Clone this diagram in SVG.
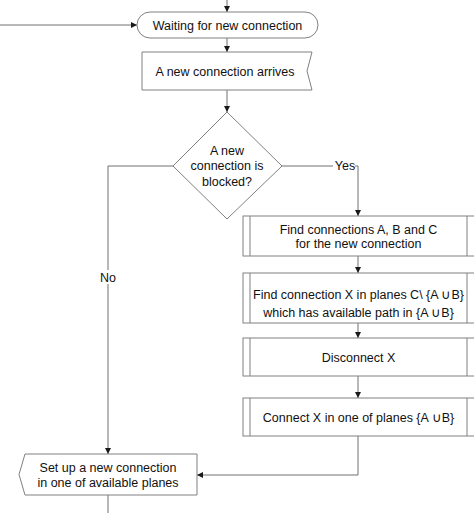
<svg xmlns="http://www.w3.org/2000/svg" width="474" height="513" viewBox="0 0 474 513">
<style>
.shape{fill:#ffffff;stroke:#808080;stroke-width:1}
.conn{fill:none;stroke:#707070;stroke-width:1}
.t{font-family:"Liberation Sans",Arial,sans-serif;font-size:12.5px;fill:#111111;text-anchor:middle}
.lbl{fill:#ffffff;stroke:none}
</style>
<defs>
<marker id="arr" viewBox="0 0 8 8" refX="8" refY="4" markerWidth="6" markerHeight="6" markerUnits="userSpaceOnUse" orient="auto">
<path d="M0,0 L8,4 L0,8 z" fill="#1a1a1a"/>
</marker>
</defs>
<g id="connectors">
<path class="conn" d="M227,0 V12" marker-end="url(#arr)"/>
<path class="conn" d="M0,25 H137" marker-end="url(#arr)"/>
<path class="conn" d="M227,38 V52" marker-end="url(#arr)"/>
<path class="conn" d="M227,90 V112" marker-end="url(#arr)"/>
<path class="conn" d="M282,166 H358 V216" marker-end="url(#arr)"/>
<path class="conn" d="M173,166 H108 V454" marker-end="url(#arr)"/>
<path class="conn" d="M358,256 V273" marker-end="url(#arr)"/>
<path class="conn" d="M358,323 V338" marker-end="url(#arr)"/>
<path class="conn" d="M358,376 V398" marker-end="url(#arr)"/>
<path class="conn" d="M358,436 V475 H197" marker-end="url(#arr)"/>
<path class="conn" d="M108,495 V513"/>
<rect class="lbl" x="333" y="158" width="22" height="14"/>
<text class="t" x="345" y="170">Yes</text>
<rect class="lbl" x="99" y="270" width="18" height="14"/>
<text class="t" x="108" y="282">No</text>
</g>
<g id="waiting">
<rect class="shape" x="137" y="12" width="181" height="26" rx="13" ry="13"/>
<text class="t" x="227.5" y="29.5">Waiting for new connection</text>
</g>
<g id="arrives">
<path class="shape" d="M142,52 H312 L307,71 L312,90 H142 Z"/>
<text class="t" x="225" y="75.5">A new connection arrives</text>
</g>
<g id="blocked">
<path class="shape" d="M227,112 L282,166 L227,219 L173,166 Z"/>
<text class="t" x="227" y="154.5">A new</text>
<text class="t" x="227" y="170">connection is</text>
<text class="t" x="227" y="185.5">blocked?</text>
</g>
<g id="findABC">
<rect class="shape" x="243" y="216" width="240" height="40"/>
<path class="shape" d="M250,216 V256 M467,216 V256"/>
<text class="t" x="358.5" y="233.5">Find connections A, B and C</text>
<text class="t" x="358.5" y="247.5">for the new connection</text>
</g>
<g id="findX">
<rect class="shape" x="243" y="273" width="240" height="50"/>
<path class="shape" d="M250,273 V323 M467,273 V323"/>
<text class="t" x="358.5" y="298.5">Find connection X in planes C\ {A ∪B}</text>
<text class="t" x="358.5" y="316.5">which has available path in {A ∪B}</text>
</g>
<g id="disconnect">
<rect class="shape" x="243" y="338" width="240" height="38"/>
<path class="shape" d="M250,338 V376 M467,338 V376"/>
<text class="t" x="358.5" y="362">Disconnect X</text>
</g>
<g id="connectX">
<rect class="shape" x="243" y="398" width="240" height="38"/>
<path class="shape" d="M250,398 V436 M467,398 V436"/>
<text class="t" x="358.5" y="421.5">Connect X in one of planes {A ∪B}</text>
</g>
<g id="setup">
<path class="shape" d="M25,454 H197 V495 H25 L19,474.5 Z"/>
<text class="t" x="108" y="472">Set up a new connection</text>
<text class="t" x="108" y="486.5">in one of available planes</text>
</g>
</svg>
